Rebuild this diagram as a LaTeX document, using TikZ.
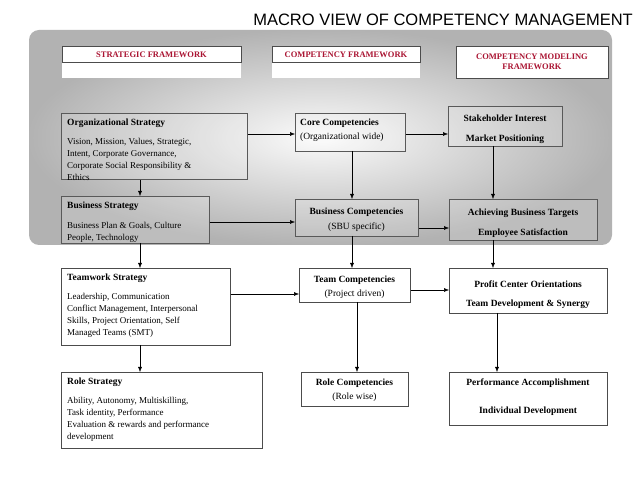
\documentclass[tikz,border=0pt]{standalone}
\usepackage{fontspec}
\setmainfont{Liberation Serif}
\newfontfamily\titlefont{Liberation Sans}
\usetikzlibrary{arrows.meta}
\definecolor{hdr}{RGB}{170,20,50}
\tikzset{
 box/.style={draw=gray!70!black,fill=white,fill opacity=0.15,text opacity=1,line width=0.5pt},
 wbox/.style={draw=gray!60!black,fill=white,line width=0.5pt},
 hd/.style={font=\bfseries\fontsize{8.5}{10.5}\selectfont,text=hdr,align=center},
 ttl/.style={font=\bfseries\fontsize{9.5}{11}\selectfont,anchor=north west,inner sep=0pt},
 bd/.style={font=\fontsize{9}{12}\selectfont,anchor=north west,inner sep=0pt,align=left},
 ct/.style={font=\bfseries\fontsize{9.5}{11}\selectfont,align=center,inner sep=0pt},
 cb/.style={font=\fontsize{9.5}{11}\selectfont,align=center,inner sep=0pt},
 arr/.style={-{Latex[length=5pt,width=4pt]},line width=0.5pt}
}
\begin{document}
\begin{tikzpicture}[x=1pt,y=-1pt]
\useasboundingbox (0,0) rectangle (638,478);
\fill[white] (0,0) rectangle (638,478);
\shade[rounded corners=10pt,inner color=gray!3,outer color=gray!60] (29,30) rectangle (612,245);
\node[font=\titlefont\fontsize{16.5}{18}\selectfont,anchor=east,inner sep=0pt] (title) at (633,20) {MACRO VIEW OF COMPETENCY MANAGEMENT};
% headers
\fill[white] (62,46) rectangle (241,78);
\draw[gray!60!black] (62,46) rectangle (241,62);
\node[hd] (h1) at (151.5,55) {STRATEGIC FRAMEWORK};
\fill[white] (272,46) rectangle (420,78);
\draw[gray!60!black] (272,46) rectangle (420,62);
\node[hd] (h2) at (346,55) {COMPETENCY FRAMEWORK};
\draw[wbox] (456,46) rectangle (608,78);
\node[hd] (h3) at (532,62) {COMPETENCY MODELING\\FRAMEWORK};
% left column
\node[box,minimum width=186pt,minimum height=66pt,anchor=north west] (org) at (61,113) {};
\node[ttl] (orgt) at (67,119) {Organizational Strategy};
\node[bd] (orgb) at (67,138) {Vision, Mission, Values, Strategic,\\Intent, Corporate Governance,\\Corporate Social Responsibility \&\\Ethics};
\node[box,minimum width=148pt,minimum height=47pt,anchor=north west] (bus) at (61,196) {};
\node[ttl] (bust) at (67,202) {Business Strategy};
\node[bd] (busb) at (67,222) {Business Plan \& Goals, Culture\\People, Technology};
\node[wbox,minimum width=169pt,minimum height=77pt,anchor=north west] (team) at (61,268) {};
\node[ttl] (teamt) at (67,274) {Teamwork Strategy};
\node[bd] (teamb) at (67,293) {Leadership, Communication\\Conflict Management, Interpersonal\\Skills, Project Orientation, Self\\Managed Teams (SMT)};
\node[wbox,minimum width=201pt,minimum height=76pt,anchor=north west] (role) at (61,372) {};
\node[ttl] (rolet) at (67,378) {Role Strategy};
\node[bd] (roleb) at (67,397) {Ability, Autonomy, Multiskilling,\\Task identity, Performance\\Evaluation \& rewards and performance\\development};
% middle column
\node[box,minimum width=110pt,minimum height=38pt,anchor=north west] (core) at (295,113) {};
\node[ttl] (coret) at (300,119) {Core Competencies};
\node[bd,font=\fontsize{9.5}{11}\selectfont] (coreb) at (300,133) {(Organizational wide)};
\node[box,minimum width=123pt,minimum height=37pt,anchor=north west] (bc) at (295,199) {};
\node[ct] (bct) at (356.5,212) {Business Competencies};
\node[cb] (bcb) at (356.5,227) {(SBU specific)};
\node[wbox,minimum width=111pt,minimum height=34pt,anchor=north west] (tc) at (299,268) {};
\node[ct] (tct) at (354.5,280) {Team Competencies};
\node[cb] (tcb) at (354.5,294) {(Project driven)};
\node[wbox,minimum width=107pt,minimum height=34pt,anchor=north west] (rc) at (301,372) {};
\node[ct] (rct) at (354.5,383) {Role Competencies};
\node[cb] (rcb) at (354.5,397) {(Role wise)};
% right column
\node[box,minimum width=114pt,minimum height=40pt,anchor=north west] (sh) at (448,106) {};
\node[ct] (sht) at (505,118) {Stakeholder Interest};
\node[ct] (shb) at (505,139) {Market Positioning};
\node[box,minimum width=148pt,minimum height=41pt,anchor=north west] (ach) at (449,199) {};
\node[ct] (acht) at (523,213) {Achieving Business Targets};
\node[ct] (achb) at (523,233) {Employee Satisfaction};
\node[wbox,minimum width=158pt,minimum height=45pt,anchor=north west] (pc) at (449,268) {};
\node[ct] (pct) at (528,284) {Profit Center Orientations};
\node[ct] (pcb) at (528,304) {Team Development \& Synergy};
\node[wbox,minimum width=158pt,minimum height=53pt,anchor=north west] (pa) at (449,372) {};
\node[ct] (pat) at (528,383) {Performance Accomplishment};
\node[ct] (pab) at (528,411) {Individual Development};
% arrows
\draw[arr] (org.east |- 0,134) -- (core.west |- 0,134);
\draw[arr] (core.east |- 0,134) -- (sh.west |- 0,134);
\draw[arr] (140,180) -- (bus.north -| 140,0);
\draw[arr] (352,151) -- (bc.north -| 352,0);
\draw[arr] (493,146) -- (ach.north -| 493,0);
\draw[arr] (bus.east |- 0,222) -- (bc.west |- 0,222);
\draw[arr] (bc.east |- 0,228) -- (ach.west |- 0,228);
\draw[arr] (140,243) -- (team.north -| 140,0);
\draw[arr] (352,236) -- (tc.north -| 352,0);
\draw[arr] (493,240) -- (pc.north -| 493,0);
\draw[arr] (team.east |- 0,294) -- (tc.west |- 0,294);
\draw[arr] (tc.east |- 0,290) -- (pc.west |- 0,290);
\draw[arr] (140,345) -- (role.north -| 140,0);
\draw[arr] (357,302) -- (rc.north -| 357,0);
\draw[arr] (497,313) -- (pa.north -| 497,0);
\end{tikzpicture}
\end{document}
